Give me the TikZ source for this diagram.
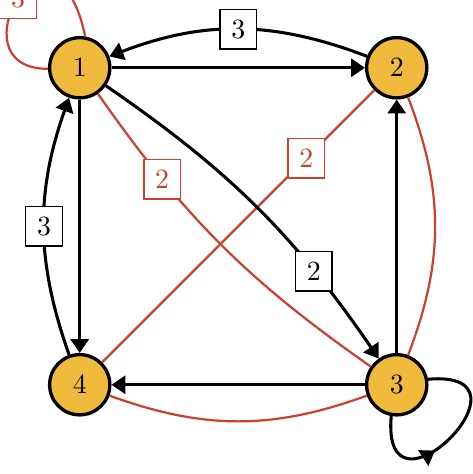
\documentclass[tikz,border=0pt]{standalone}
\usepackage{amsmath}
\usepackage{amssymb}
\usepackage[dvipsnames]{xcolor}
\usetikzlibrary{arrows.meta,decorations.markings}
\definecolor{vtxfill}{RGB}{240,186,60}
\definecolor{edgered}{RGB}{204,64,46}

\begin{document}
\begin{tikzpicture}[
  vtx/.style={circle,draw,line width=1.2pt,fill=vtxfill,minimum size=0.76cm,inner sep=0pt},
  wt/.style={draw,line width=0.5pt,fill=white,minimum width=0.46cm,minimum height=0.5cm,inner sep=1pt},
  arc/.style={line width=1.1pt,-{Triangle[length=5pt,width=6.5pt]}},
  und/.style={edgered,line width=0.8pt}]
\useasboundingbox (-1.006,-1.126) rectangle (4.956,4.855);
\foreach \nn/\xx/\yy in {1/0/4,2/4/4,3/4/0,4/0/0}{
\node[vtx] (v\nn) at (\xx,\yy) {$\nn$};}
% undirected (red)
\draw[und] (v1) to[bend right=10] node[wt,pos=0.26,text=edgered] {$2$} (v3);
\draw[und] (v2) -- node[wt,pos=0.25,text=edgered] {$2$} (v4);
\draw[und] (v2) to[bend left=21] (v3);
\draw[und] (v4) to[bend right=20] (v3);
\draw[und] (v1.182) .. controls +(180:1.25) and +(102:1.85) .. (v1.80)
  node[wt,pos=0.5,text=edgered] {$3$};
% directed (black)
\draw[arc] (v1) -- (v2);
\draw[arc] (v1) -- (v4);
\draw[arc] (v3) -- (v2);
\draw[arc] (v3) -- (v4);
\draw[arc] (v2) to[bend right=21] node[wt] {$3$} (v1);
\draw[arc] (v4) to[bend left=19.5] node[wt] {$3$} (v1);
\draw[arc] (v1) to[bend left=10.5] node[wt,pos=0.735] {$2$} (v3);
\draw[line width=1.1pt,postaction={decorate},
  decoration={markings,mark=at position 0.4 with {\arrow{Triangle[length=5pt,width=6.5pt]}}}]
  (v3.-100) .. controls +(-95:1.5) and +(5:1.5) .. (v3.10);
\end{tikzpicture}
\end{document}
